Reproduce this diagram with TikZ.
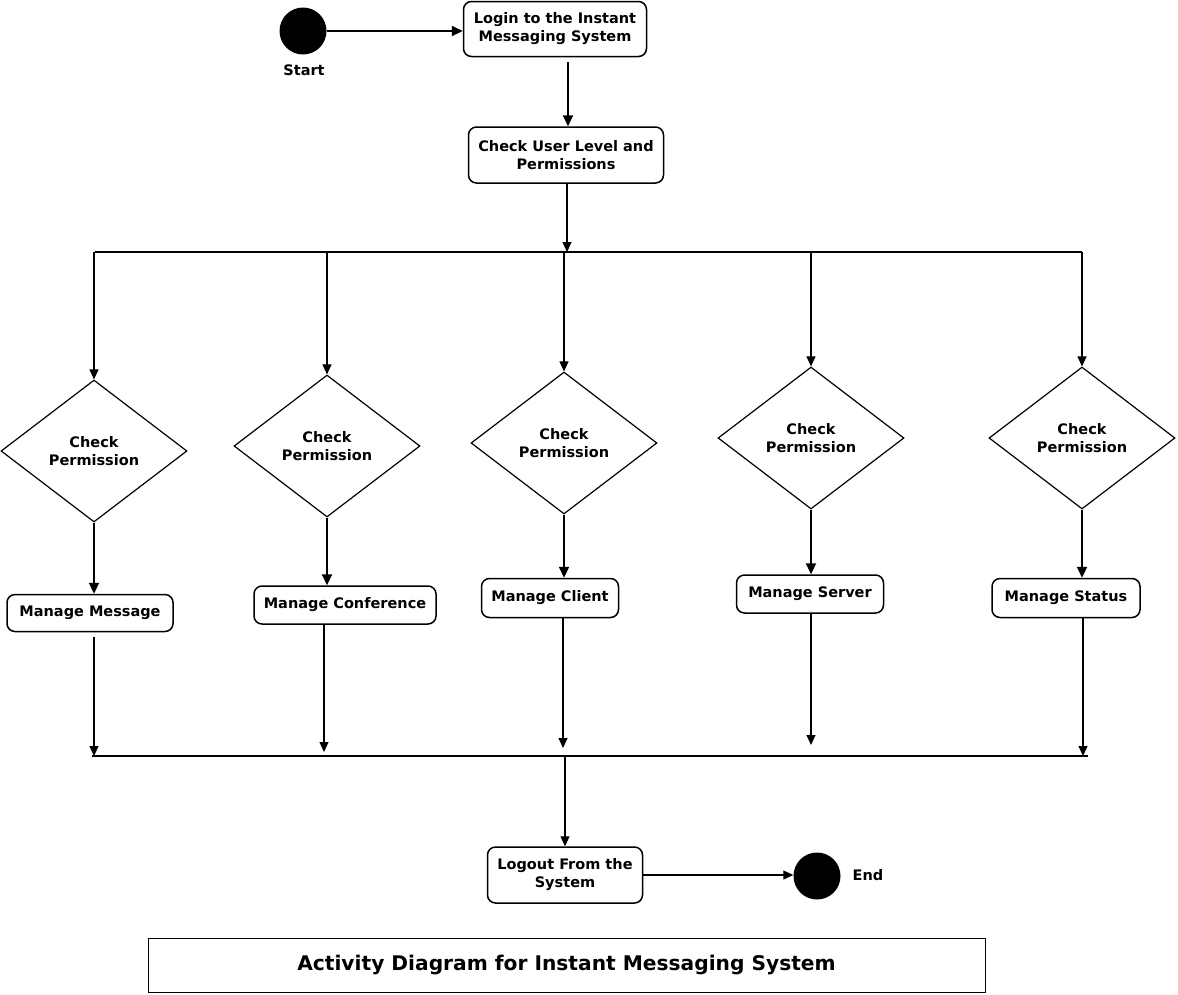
\documentclass[tikz,border=0pt]{standalone}
\usepackage{fontspec}
\setmainfont{DejaVu Sans}
\usetikzlibrary{shapes.geometric}
\usetikzlibrary{arrows.meta}

\tikzset{
  act/.style={draw, rounded corners=8pt, line width=1.5pt, align=center, inner sep=2pt,
    font=\bfseries\fontsize{14.5}{18}\selectfont},
  decide/.style={draw, diamond, line width=1.2pt, align=center, inner sep=0pt,
    minimum width=186pt, minimum height=142pt, font=\bfseries\fontsize{14.5}{18}\selectfont},
  dot/.style={circle, fill=black, minimum size=47pt, inner sep=0pt},
  lbl/.style={font=\bfseries\fontsize{14.5}{18}\selectfont},
  flow/.style={line width=2.2pt, -{Triangle[length=11pt,width=10pt]}},
  thinflow/.style={line width=1.1pt, -{Triangle[length=10pt,width=9pt]}},
  bar/.style={line width=1.6pt}
}

\begin{document}
\begin{tikzpicture}[x=1pt, y=-1pt]
\useasboundingbox (0,0) rectangle (1178,994);

\node[dot] (start) at (303,31) {};
\node[lbl] (startlbl) at (304,70) {Start};
\node[act, minimum width=183pt, minimum height=55pt] (login) at (555,29) {Login to the Instant\\Messaging System};
\node[act, minimum width=195pt, minimum height=56pt] (check) at (566,155) {Check User Level and\\Permissions};

\coordinate (forkL) at (95,252);
\coordinate (forkR) at (1082,252);

\node[decide] (d1) at (94,451) {Check\\Permission};
\node[decide] (d2) at (327,446) {Check\\Permission};
\node[decide] (d3) at (564,443) {Check\\Permission};
\node[decide] (d4) at (811,438) {Check\\Permission};
\node[decide] (d5) at (1082,438) {Check\\Permission};

\node[act, minimum width=166pt, minimum height=37pt] (m1) at (90,613) {Manage Message};
\node[act, minimum width=182pt, minimum height=38pt] (m2) at (345,605) {Manage Conference};
\node[act, minimum width=137pt, minimum height=39pt] (m3) at (550,598) {Manage Client};
\node[act, minimum width=147pt, minimum height=38pt] (m4) at (810,594) {Manage Server};
\node[act, minimum width=148pt, minimum height=39pt] (m5) at (1066,598) {Manage Status};

\coordinate (joinL) at (92,756);
\coordinate (joinR) at (1088,756);

\node[act, minimum width=155pt, minimum height=56pt] (logout) at (565,875) {Logout From the\\System};
\node[dot] (end) at (817,876) {};
\node[lbl] (endlbl) at (868,875) {End};

\node[draw, line width=1pt, minimum width=837pt, minimum height=54pt,
  font=\bfseries\fontsize{20.2}{24}\selectfont] (title) at (566.5,965) {Activity Diagram for Instant Messaging System};

\draw[flow] (start) -- (start -| login.west);
\draw[flow] (568,62) -- (check.north -| 568,0);
\draw[thinflow] (check.south -| 567,0) -- (567,252);
\draw[bar] (forkL) -- (forkR);

\foreach \d in {d1,d2,d3,d4,d5}
  \draw[thinflow] (\d.north |- forkL) -- (\d.north);

\draw[flow] (d1.south) -- (d1.south |- m1.north);
\draw[flow] (d2.south) -- (d2.south |- m2.north);
\draw[flow] (d3.south) -- (d3.south |- m3.north);
\draw[flow] (d4.south) -- (d4.south |- m4.north);
\draw[flow] (d5.south) -- (d5.south |- m5.north);

\draw[thinflow] (94,637) -- (94,756);
\draw[thinflow] (m2.south -| 324,0) -- (324,752);
\draw[thinflow] (m3.south -| 563,0) -- (563,748);
\draw[thinflow] (m4.south -| 811,0) -- (811,745);
\draw[thinflow] (m5.south -| 1083,0) -- (1083,756);
\draw[bar] (joinL) -- (joinR);

\draw[thinflow] (joinL -| logout.north) -- (logout.north);
\draw[thinflow] (logout) -- (logout -| end.west);
\end{tikzpicture}
\end{document}
